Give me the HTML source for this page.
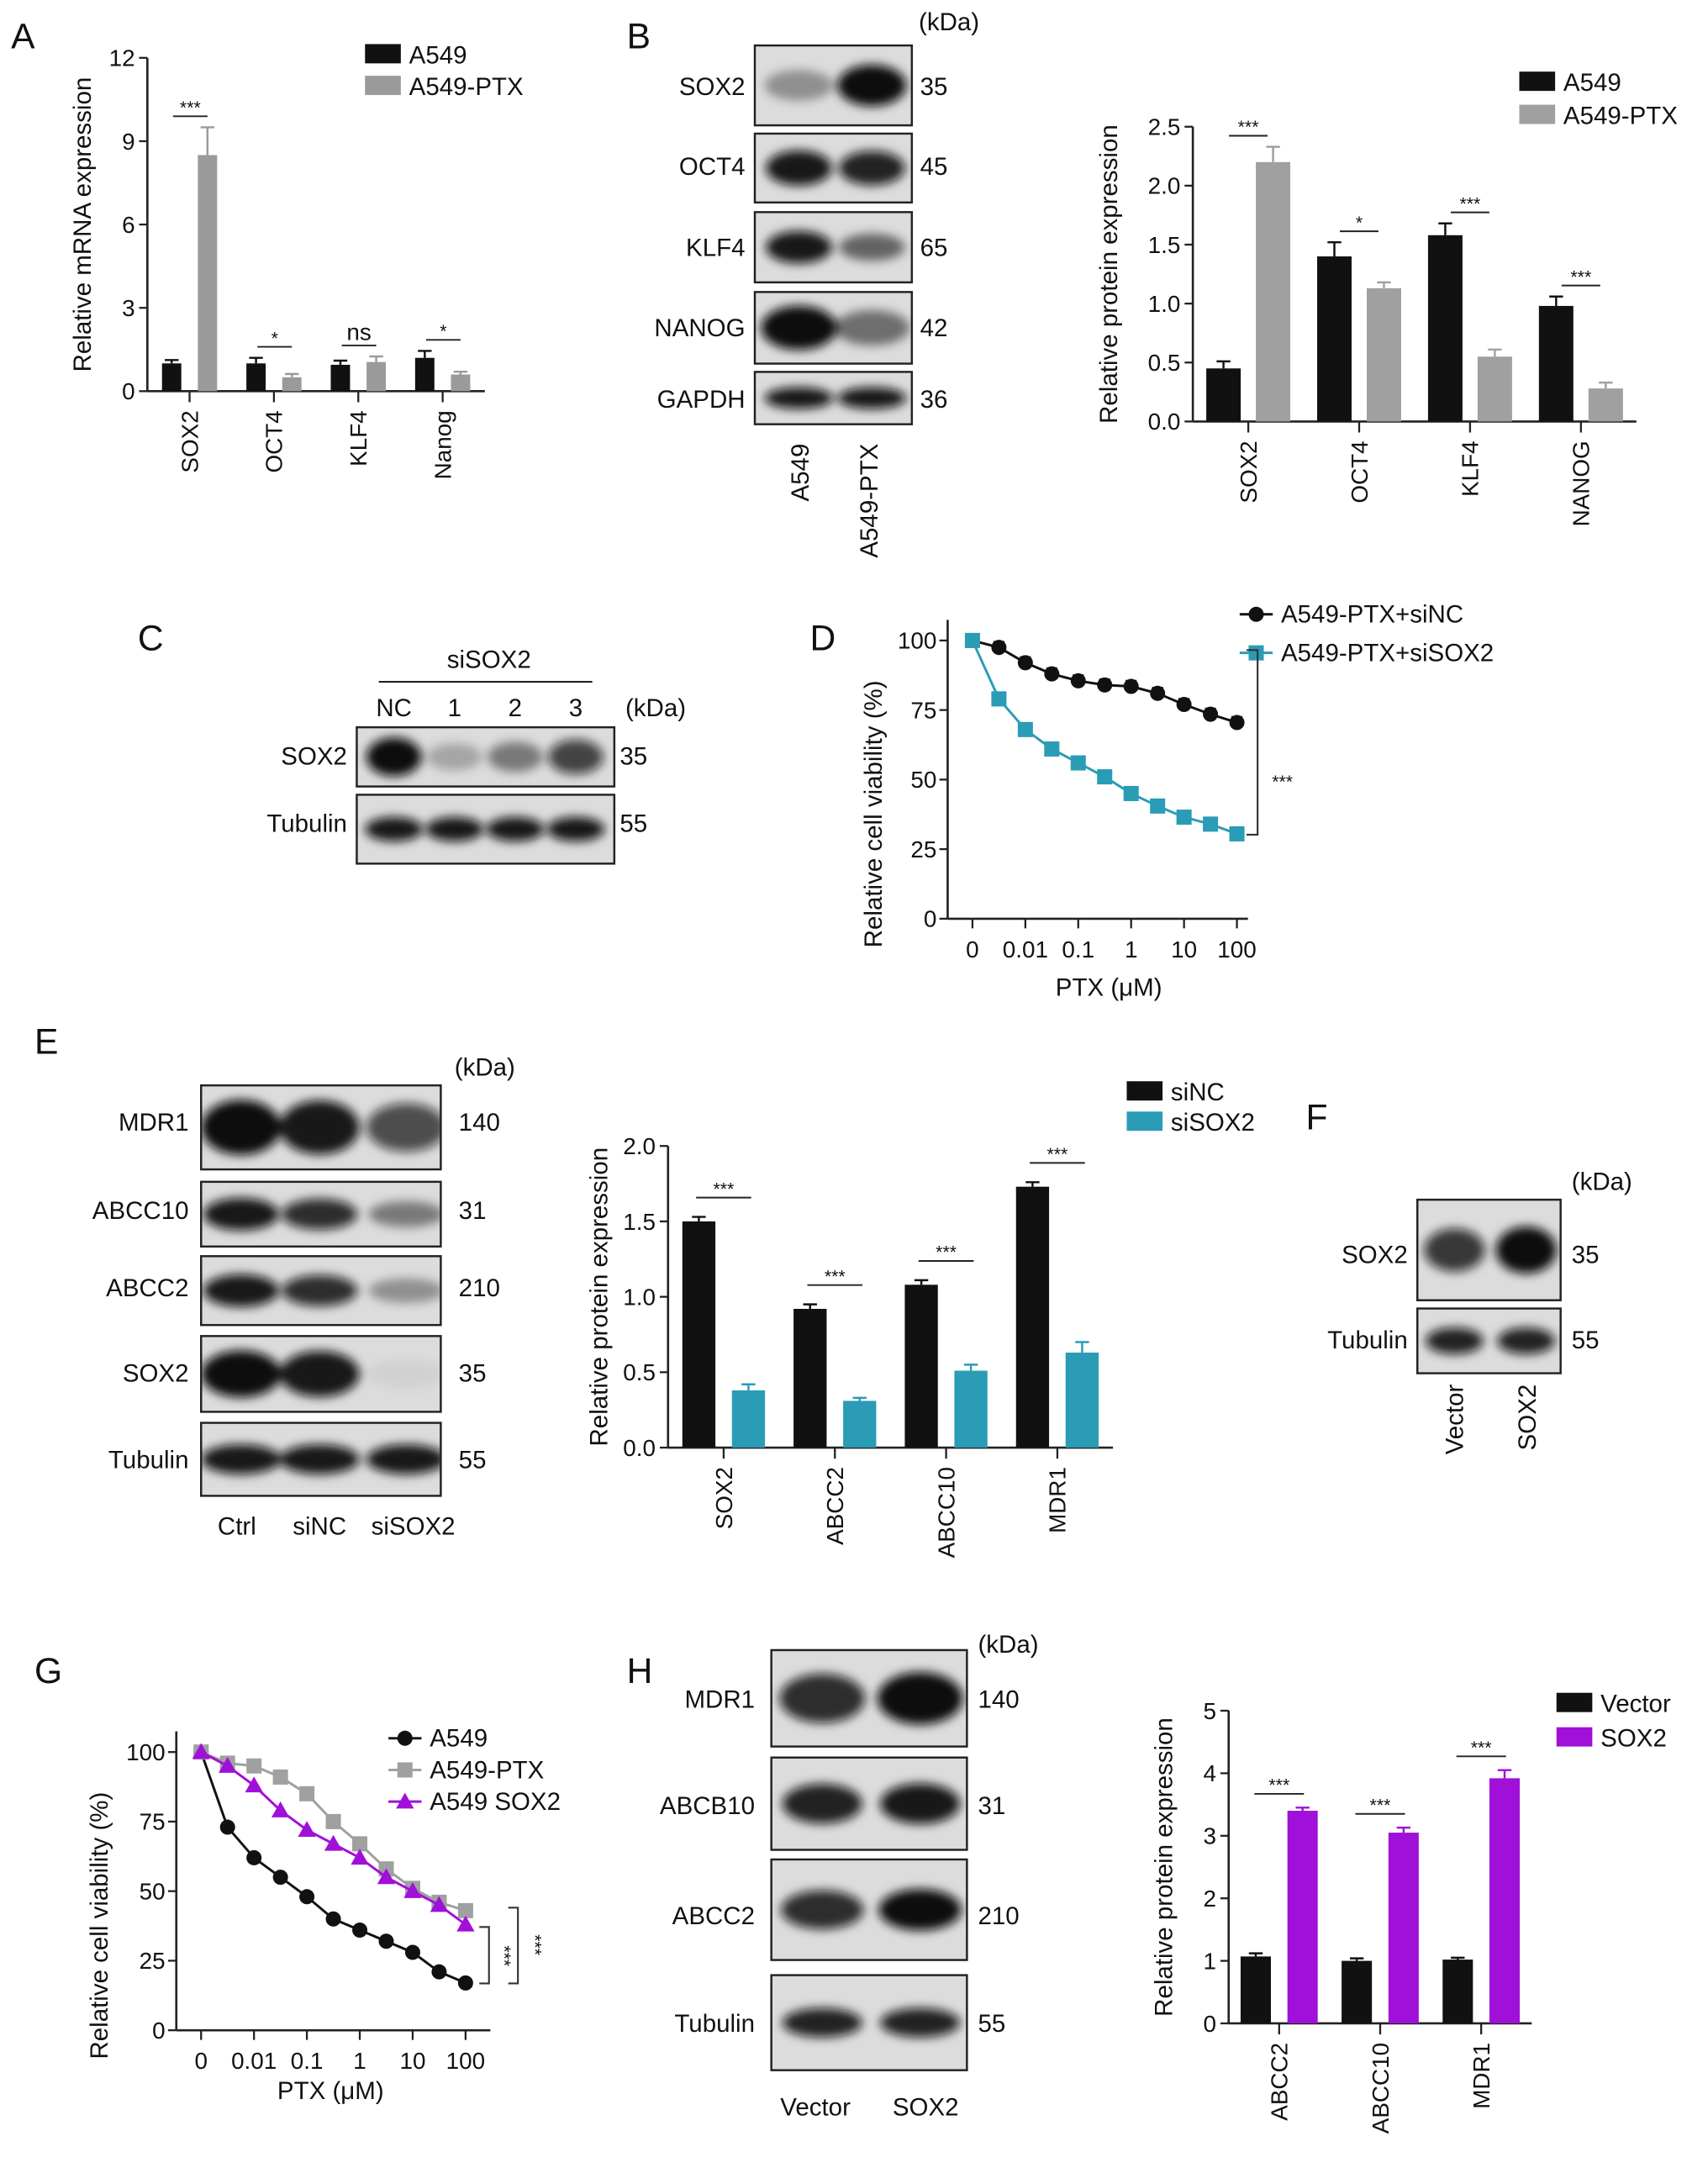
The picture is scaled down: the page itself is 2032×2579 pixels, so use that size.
<!DOCTYPE html>
<html><head><meta charset="utf-8"><style>
html,body{margin:0;padding:0;background:#fff;}
svg{display:block;font-family:"Liberation Sans",Arial,sans-serif;}
</style></head><body>
<svg id="fig" width="2032" height="2579" viewBox="0 0 1240 1574" preserveAspectRatio="none" xmlns="http://www.w3.org/2000/svg">
<defs>
<filter id="blur" x="-50%" y="-100%" width="200%" height="300%"><feGaussianBlur stdDeviation="3.5"/></filter>
</defs>
</svg>
<script>
// ---------- DATA ----------
const aCats = ['SOX2','OCT4','KLF4','Nanog'];
const aA549 = [1.0,1.0,0.95,1.2];
const aA549Err = [0.12,0.2,0.15,0.25];
const aPTX = [8.5,0.5,1.05,0.6];
const aPTXErr = [1.0,0.12,0.2,0.1];
const aSig = ['***','*','ns','*'];
const aTicks = [0,3,6,9,12];

const bCats = ['SOX2','OCT4','KLF4','NANOG'];
const bA549 = [0.45,1.4,1.58,0.98];
const bA549Err = [0.06,0.12,0.1,0.08];
const bPTX = [2.2,1.13,0.55,0.28];
const bPTXErr = [0.13,0.05,0.06,0.05];
const bSig = ['***','*','***','***'];
const bTicks = [0,0.5,1.0,1.5,2.0,2.5];

const dX = ['0','','0.01','','0.1','','1','','10','','100'];
const dSiNC = [100,97.5,92,88,85.5,84,83.5,81,77,73.5,70.5];
const dSiSOX2 = [100,79,68,61,56,51,45,40.5,36.5,34,30.5];
const dTicks = [0,25,50,75,100];

const eCats = ['SOX2','ABCC2','ABCC10','MDR1'];
const eSiNC = [1.5,0.92,1.08,1.73];
const eSiNCErr = [0.03,0.03,0.03,0.03];
const eSiSOX2 = [0.38,0.31,0.51,0.63];
const eSiSOX2Err = [0.04,0.02,0.04,0.07];
const eSig = ['***','***','***','***'];
const eTicks = [0,0.5,1.0,1.5,2.0];

const gA549 = [100,73,62,55,48,40,36,32,28,21,17];
const gPTX = [100,96,95,91,85,75,67,58,51,46,43];
const gSOX2 = [100,95,88,79,72,67,62,55,50,45,38];

const hCats = ['ABCC2','ABCC10','MDR1'];
const hVector = [1.07,1.0,1.02];
const hVectorErr = [0.05,0.04,0.03];
const hSOX2 = [3.4,3.05,3.92];
const hSOX2Err = [0.05,0.08,0.13];
const hSig = ['***','***','***'];
const hTicks = [0,1,2,3,4,5];

// ---------- HELPERS ----------
const NS='http://www.w3.org/2000/svg';
const svg=document.getElementById('fig');
function el(tag,attrs,parent){const e=document.createElementNS(NS,tag);for(const k in attrs)e.setAttribute(k,attrs[k]);(parent||svg).appendChild(e);return e;}
function txt(x,y,s,size,anchor,rot){const t=el('text',{x:x,y:y,'font-size':size,'text-anchor':anchor||'start',fill:'#111'});if(rot)t.setAttribute('transform','rotate('+rot+' '+x+' '+y+')');t.textContent=s;return t;}
function line(x1,y1,x2,y2,w,c){return el('line',{x1:x1,y1:y1,x2:x2,y2:y2,stroke:c||'#222','stroke-width':w||1.4});}
function letter(x,y,s){const t=txt(x,y,s,26,'start');

}

function barChart(c){
  const ys=v=>c.y0-(v-c.min)/(c.max-c.min)*(c.y0-c.y1);
  const ax=line(c.x0,c.y1,c.x0,c.y0,1.6);
  
  
  const xa=line(c.x0,c.y0,c.x2,c.y0,1.6);
  
  
  c.ticks.forEach(v=>{line(c.x0-6,ys(v),c.x0,ys(v));const t=txt(c.x0-9,ys(v)+6,c.fmt(v),17,'end');
  
  });
  const yt=txt(c.ylx,(c.y0+c.y1)/2,c.ylabel,18,'middle',-90);
  
  
  const n=c.cats.length, slot=(c.x2-c.x0)/n;
  c.cats.forEach((cat,i)=>{
    const cx=c.x0+slot*(i+0.5);
    line(cx,c.y0,cx,c.y0+8);
    const lt=txt(cx+6,c.y0+14,cat,17,'end',-90);
    
    
    [[c.s1,c.e1,c.c1,-1],[c.s2,c.e2,c.c2,1]].forEach(([s,e,col,sd],k)=>{
      const bx=cx+sd*c.off-c.bw/2, y=ys(s[i]);
      el('line',{x1:bx+c.bw/2,y1:y,x2:bx+c.bw/2,y2:ys(s[i]+e[i]),stroke:col,'stroke-width':1.5});
      el('line',{x1:bx+c.bw/2-5,y1:ys(s[i]+e[i]),x2:bx+c.bw/2+5,y2:ys(s[i]+e[i]),stroke:col,'stroke-width':1.5});
      const r=el('rect',{x:bx,y:y,width:c.bw,height:c.y0-y,fill:col});
      
      
    });
    const top=Math.max(c.s1[i]+c.e1[i],c.s2[i]+c.e2[i]);
    const sy=ys(top)-c.sigGap;
    line(cx+c.sigL,sy,cx+c.sigR,sy,1.2);
    const st=txt(cx+(c.sigL+c.sigR)/2,sy-(c.sig[i]==='ns'?4:2),c.sig[i],c.sig[i]==='ns'?17:13,'middle');
    
    
  });
  c.legend.forEach((L,k)=>{
    el('rect',{x:c.lx,y:c.ly+k*c.lgap-8,width:26,height:14,fill:L[1]});
    const t=txt(c.lx+32,c.ly+k*c.lgap+6,L[0],18,'start');
    
    
  });
}

function lineChart(c){
  const ys=v=>c.y0-v/100*(c.y0-c.y1);
  const xs=i=>c.px0+i*c.step;
  const ax=line(c.x0,c.y1-15,c.x0,c.y0,1.6);
  
  
  const xa=line(c.x0,c.y0,c.x2,c.y0,1.6);
  
  
  dTicks.forEach(v=>{line(c.x0-6,ys(v),c.x0,ys(v));const t=txt(c.x0-8,ys(v)+6,String(v),17,'end');
  
  });
  dX.forEach((s,i)=>{if(!s)return;line(xs(i),c.y0,xs(i),c.y0+7);const t=txt(xs(i),c.y0+28,s,17,'middle');
  
  });
  const xt=txt(c.xlx,c.xly,'PTX (μM)',18,'middle');
  
  
  const yt=txt(c.ylx,(c.y0+c.y1)/2+25,'Relative cell viability (%)',18,'middle',-90);
  
  
  c.series.forEach((S,k)=>{
    const [vals,col,shape,name]=S;
    const p=el('polyline',{points:vals.map((v,i)=>xs(i)+','+ys(v)).join(' '),fill:'none',stroke:col,'stroke-width':1.8});
    
    
    vals.forEach((v,i)=>{
      if(c.err){line(xs(i),ys(v),xs(i),ys(v+2),1.4,col);line(xs(i)-4,ys(v+2),xs(i)+4,ys(v+2),1.4,col);}
      const m=marker(shape,xs(i),ys(v),col);
      
      
    });
    const ly=c.ly+k*c.lgap;
    line(c.lx,ly,c.lx+24,ly,1.8,col);
    marker(shape,c.lx+12,ly,col);
    const t=txt(c.lx+30,ly+6,name,18,'start');
    
    
  });
}
function marker(shape,x,y,col){
  if(shape==='c')return el('circle',{cx:x,cy:y,r:5.5,fill:col});
  if(shape==='s')return el('rect',{x:x-5.5,y:y-5.5,width:11,height:11,fill:col});
  return el('polygon',{points:(x)+','+(y-6.5)+' '+(x-6.5)+','+(y+5)+' '+(x+6.5)+','+(y+5),fill:col});
}

function blot(id,x,y,w,h,lanes,ints,bw,bh){
  const g=el('g',{});
  
  
  const cp=el('clipPath',{id:'cp-'+id},svg.querySelector('defs'));
  el('rect',{x:x,y:y,width:w,height:h},cp);
  el('rect',{x:x,y:y,width:w,height:h,fill:'#dcdcdc'},g);
  const inner=el('g',{'clip-path':'url(#cp-'+id+')',filter:'url(#blur)'},g);
  lanes.forEach((lx,i)=>{
    el('ellipse',{cx:lx,cy:y+h/2,rx:bw/2,ry:bh*(0.6+0.4*ints[i])/2,fill:'#0a0a0a','fill-opacity':ints[i]},inner);
  });
  el('rect',{x:x,y:y,width:w,height:h,fill:'none',stroke:'#222','stroke-width':1.5},g);
}
function blotLabels(prefix,rows,lx,kx){
  rows.forEach(r=>{
    const t=txt(lx,r[1],r[0],18,'end');
    
    
    const k=txt(kx,r[1],r[2],18,'start');
    
    
  });
}

// ---------- PANEL A ----------
letter(8,35,'A');
barChart({id:'a',x0:107,x2:352,y0:284,y1:42,min:0,max:12,ticks:aTicks,fmt:v=>String(v),cats:aCats,
 s1:aA549,e1:aA549Err,s2:aPTX,e2:aPTXErr,c1:'#111',c2:'#9a9a9a',bw:14,off:13,sig:aSig,sigGap:8,sigL:-12,sigR:13,
 ylabel:'Relative mRNA expression',ylx:66,legend:[['A549','#111'],['A549-PTX','#9a9a9a']],lx:265,ly:40,lgap:23});

// ---------- PANEL B ----------
letter(455,35,'B');
const bk=txt(667,22,'(kDa)',18,'start');


blot('b-blot-sox2',548,33,114,58,[580,633],[0.35,1],50,30);
blot('b-blot-oct4',548,97,114,50,[580,633],[0.95,0.9],48,26);
blot('b-blot-klf4',548,154,114,51,[580,633],[0.95,0.55],48,24);
blot('b-blot-nanog',548,212,114,52,[580,633],[1,0.5],55,32);
blot('b-blot-gapdh',548,270,114,38,[580,633],[0.95,0.95],50,16);
blotLabels('b',[['SOX2',69,'35'],['OCT4',127,'45'],['KLF4',186,'65'],['NANOG',244,'42'],['GAPDH',296,'36']],541,668);
[['A549',587],['A549-PTX',637]].forEach(L=>{const t=txt(L[1],322,L[0],18,'end',-90);

});
barChart({id:'b',x0:866,x2:1188,y0:306,y1:92,min:0,max:2.5,ticks:bTicks,fmt:v=>v.toFixed(1),cats:bCats,
 s1:bA549,e1:bA549Err,s2:bPTX,e2:bPTXErr,c1:'#111',c2:'#a0a0a0',bw:25,off:18,sig:bSig,sigGap:8,sigL:-14,sigR:14,
 ylabel:'Relative protein expression',ylx:811,legend:[['A549','#111'],['A549-PTX','#a0a0a0']],lx:1103,ly:60,lgap:24});

// ---------- PANEL C ----------
letter(100,472,'C');
const cs=txt(355,485,'siSOX2',18,'middle');


line(275,495,430,495,1.3);
[['NC',286],['1',330],['2',374],['3',418],['(kDa)',476]].forEach(L=>{const t=txt(L[1],520,L[0],18,'middle');

});
blot('c-blot-sox2',259,528,187,43,[286,330,374,418],[1,0.25,0.45,0.75],40,28);
blot('c-blot-tubulin',259,577,187,50,[286,330,374,418],[0.95,0.95,0.95,0.95],42,18);
blotLabels('c',[['SOX2',555,'35'],['Tubulin',604,'55']],252,450);

// ---------- PANEL D ----------
letter(588,472,'D');
lineChart({id:'d',x0:688,x2:906,y0:667,y1:465,px0:706,step:19.2,err:true,xlx:805,xly:723,ylx:640,
 series:[[dSiNC,'#111','c','A549-PTX+siNC'],[dSiSOX2,'#2a9cb6','s','A549-PTX+siSOX2']],lx:900,ly:446,lgap:28});
const dbr=el('polyline',{points:'905,472 913,472 913,606 905,606',fill:'none',stroke:'#333','stroke-width':1.3});


const dst=txt(931,572,'***',13,'middle');



// ---------- PANEL E ----------
letter(25,765,'E');
const ek=txt(330,781,'(kDa)',18,'start');


const eL=[175,232,295];
blot('e-blot-mdr1',146,788,174,61,eL,[1,0.95,0.7],58,40);
blot('e-blot-abcc10',146,858,174,47,eL,[0.95,0.85,0.45],55,24);
blot('e-blot-abcc2',146,912,174,50,eL,[0.95,0.85,0.35],55,24);
blot('e-blot-sox2',146,970,174,55,eL,[1,0.95,0.05],58,34);
blot('e-blot-tubulin',146,1033,174,53,eL,[0.95,0.95,0.95],58,22);
blotLabels('e',[['MDR1',821,'140'],['ABCC10',885,'31'],['ABCC2',941,'210'],['SOX2',1003,'35'],['Tubulin',1066,'55']],137,333);
[['Ctrl',172],['siNC',232],['siSOX2',300]].forEach(L=>{const t=txt(L[1],1114,L[0],18,'middle');

});
barChart({id:'e',x0:485,x2:808,y0:1051,y1:832,min:0,max:2.0,ticks:eTicks,fmt:v=>v.toFixed(1),cats:eCats,
 s1:eSiNC,e1:eSiNCErr,s2:eSiSOX2,e2:eSiSOX2Err,c1:'#111',c2:'#2a9cb6',bw:24,off:18,sig:eSig,sigGap:14,sigL:-20,sigR:20,
 ylabel:'Relative protein expression',ylx:441,legend:[['siNC','#111'],['siSOX2','#2a9cb6']],lx:818,ly:793,lgap:22});

// ---------- PANEL F ----------
letter(948,820,'F');
const fk=txt(1141,864,'(kDa)',18,'start');


blot('f-blot-sox2',1029,871,104,73,[1056,1108],[0.8,1],44,34);
blot('f-blot-tubulin',1029,950,104,47,[1056,1108],[0.9,0.9],42,20);
blotLabels('f',[['SOX2',917,'35'],['Tubulin',979,'55']],1022,1141);
[['Vector',1062],['SOX2',1115]].forEach(L=>{const t=txt(L[1],1005,L[0],18,'end',-90);

});

// ---------- PANEL G ----------
letter(25,1222,'G');
lineChart({id:'g',x0:128,x2:356,y0:1474,y1:1272,px0:146,step:19.2,err:false,xlx:240,xly:1524,ylx:78,
 series:[[gA549,'#111','c','A549'],[gPTX,'#a0a0a0','s','A549-PTX'],[gSOX2,'#a010d8','t','A549 SOX2']],lx:282,ly:1262,lgap:23});
const gb1=el('polyline',{points:'348,1399 355,1399 355,1440 348,1440',fill:'none',stroke:'#333','stroke-width':1.3});


const gb2=el('polyline',{points:'369,1385 376,1385 376,1440 369,1440',fill:'none',stroke:'#333','stroke-width':1.3});


const gs1=txt(362,1420,'***',13,'middle',90);


const gs2=txt(384,1412,'***',13,'middle',90);



// ---------- PANEL H ----------
letter(455,1222,'H');
const hk=txt(710,1200,'(kDa)',18,'start');


const hL=[597,668];
blot('h-blot-mdr1',560,1198,142,70,hL,[0.85,1],62,38);
blot('h-blot-abcb10',560,1276,142,67,hL,[0.9,0.95],58,30);
blot('h-blot-abcc2',560,1350,142,73,hL,[0.85,1],60,30);
blot('h-blot-tubulin',560,1434,142,69,hL,[0.9,0.9],58,22);
blotLabels('h',[['MDR1',1240,'140'],['ABCB10',1317,'31'],['ABCC2',1397,'210'],['Tubulin',1475,'55']],548,710);
[['Vector',592],['SOX2',672]].forEach(L=>{const t=txt(L[1],1536,L[0],18,'middle');

});
barChart({id:'h',x0:892,x2:1112,y0:1469,y1:1242,min:0,max:5,ticks:hTicks,fmt:v=>String(v),cats:hCats,
 s1:hVector,e1:hVectorErr,s2:hSOX2,e2:hSOX2Err,c1:'#111',c2:'#a010d8',bw:22,off:17,sig:hSig,sigGap:10,sigL:-18,sigR:18,
 ylabel:'Relative protein expression',ylx:851,legend:[['Vector','#111'],['SOX2','#a010d8']],lx:1130,ly:1237,lgap:25});
</script>
</body></html>
